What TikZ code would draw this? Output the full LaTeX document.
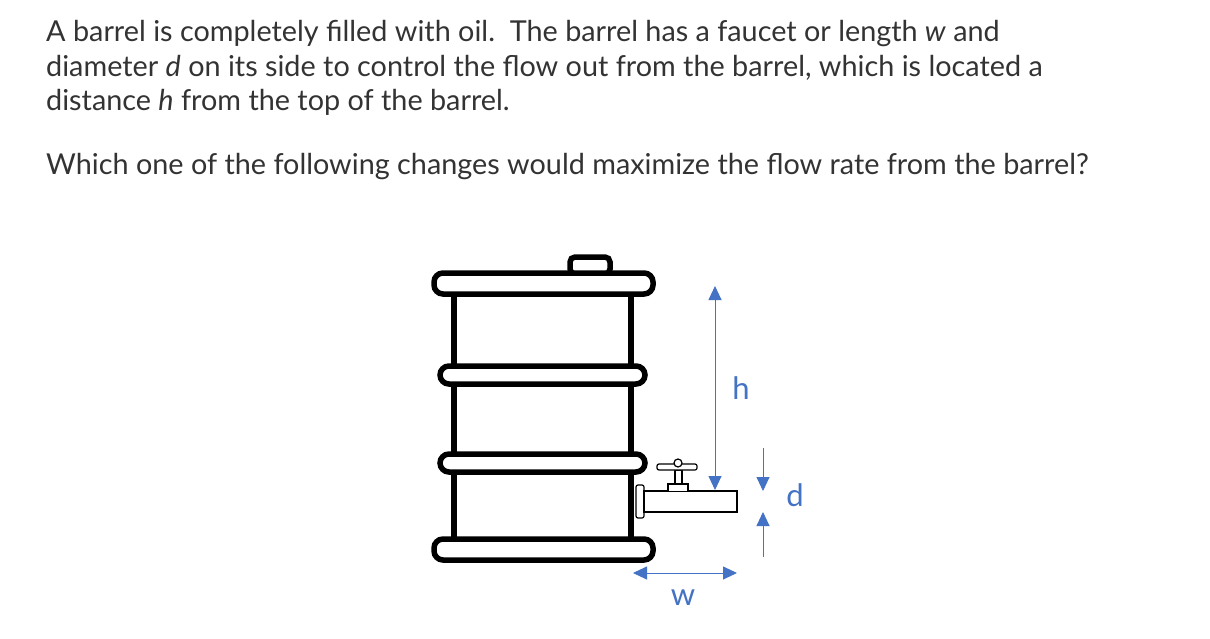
\documentclass[tikz,border=0pt]{standalone}
\usepackage{fontspec}
\setmainfont{Lato}
\usetikzlibrary{arrows.meta}
\definecolor{dimblue}{HTML}{4472C4}
\definecolor{txt}{HTML}{333333}
\begin{document}
\begin{tikzpicture}[x=1pt,y=-1pt,
  rim/.style={line width=5.5pt,rounded corners=9pt,fill=white},
  wall/.style={line width=5.5pt},
  thin/.style={line width=1.2pt},
  dim/.style={dimblue,line width=0.9pt,-{Triangle[length=14pt,width=13pt]}},
  dimtwo/.style={dimblue,line width=0.9pt,{Triangle[length=14pt,width=13pt]}-{Triangle[length=14pt,width=13pt]}},
  para/.style={anchor=base west,text=txt,font=\fontsize{28.8}{34.5}\selectfont,inner sep=0pt},
  lab/.style={text=dimblue,font=\fontsize{31}{34}\selectfont}]
\useasboundingbox[fill=white] (0,0) rectangle (1210,639);
\node[para] (l1) at (46,42) {A barrel is completely filled with oil.\ \ The barrel has a faucet or length \textit{w} and};
\node[para] (l2) at (46,77) {diameter \textit{d} on its side to control the flow out from the barrel, which is located a};
\node[para] (l3) at (46,111) {distance \textit{h} from the top of the barrel.};
\node[para] (p2) at (46,175) {Which one of the following changes would maximize the flow rate from the barrel?};
% barrel
\draw[wall] (454,295) -- (454,540) (631,295) -- (631,540);
\draw[rim,rounded corners=5pt] (570,257) rectangle (610,274);
\draw[rim] (434,273) rectangle (653,294);
\draw[rim] (440,366) rectangle (645,384);
\draw[rim] (440,454) rectangle (645,472);
\draw[rim] (434,539) rectangle (653,560);
% faucet
\draw[thin,fill=white,rounded corners=2pt] (636,485) rectangle (644,518);
\draw[thin,fill=white] (644,491) rectangle (737,512);
\draw[thin,fill=white] (668,491) -- (668,484) -- (688,484) -- (688,491);
\draw[thin,fill=white] (675,484) rectangle (682,470);
\draw[thin,fill=white,rounded corners=2pt] (657,464) rectangle (697,470);
\draw[thin,fill=white] (678,463) circle (4);
% dimensions
\coordinate (ht) at (715,286);
\coordinate (hb) at (715,490);
\draw[dimtwo] (ht) -- (hb);
\node[lab] (hl) at (741,388) {h};
\coordinate (d1) at (763,448);
\coordinate (d2) at (763,491);
\coordinate (d3) at (763,557);
\coordinate (d4) at (763,512);
\draw[dim] (d1) -- (d2);
\draw[dim] (d3) -- (d4);
\node[lab] (dl) at (795,495) {d};
\coordinate (w1) at (633,573);
\coordinate (w2) at (737,573);
\draw[dimtwo] (w1) -- (w2);
\node[lab] (wl) at (683,598) {w};
\end{tikzpicture}
\end{document}
